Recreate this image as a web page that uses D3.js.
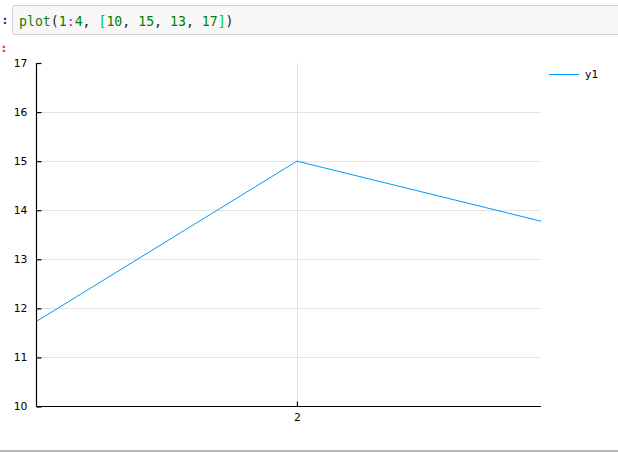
<!DOCTYPE html>
<html>
<head>
<meta charset="utf-8">
<script src="https://cdn.jsdelivr.net/npm/d3@7"></script>
<style>
  html, body { margin: 0; padding: 0; background: #fff; overflow: hidden; }
  svg { display: block; }
</style>
</head>
<body>
<svg id="chart" width="618" height="452"></svg>
<script>
// data from the plot call
var xs = [1, 2, 3, 4];
var ys = [10, 15, 13, 17];
var xTicks = [2];
var yTicks = [10, 11, 12, 13, 14, 15, 16, 17];
var seriesName = "y1";

function main(){
  var svg = d3.select("#chart");

  // jupyter cell look
  svg.append("text").attr("x", 1).attr("y", 24).attr("fill", "#303f9f")
    .style("font", "bold 13px 'DejaVu Sans Mono'").text(":");
  svg.append("rect").attr("x", 12.5).attr("y", 5.5).attr("width", 620).attr("height", 29)
    .attr("fill", "#f7f7f7").attr("stroke", "#cfcfcf").attr("rx", 2);

  var code = [
    ["plot", "#1d7a12"], ["(", "#1a1a1a"], ["1", "#008000"], [":", "#aa22ff"], ["4", "#008000"],
    [", ", "#1a1a1a"], ["[", "#00d000"], ["10", "#008000"], [", ", "#1a1a1a"], ["15", "#008000"],
    [", ", "#1a1a1a"], ["13", "#008000"], [", ", "#1a1a1a"], ["17", "#008000"], ["]", "#00d000"], [")", "#1a1a1a"]
  ];
  var codeText = svg.append("text").attr("x", 19).attr("y", 25.5)
    .style("font-family", "'DejaVu Sans Mono', monospace").style("font-size", "13.2px")
    .style("white-space", "pre");
  code.forEach(function(c){
    codeText.append("tspan").attr("fill", c[1]).text(c[0]);
  });

  svg.append("text").attr("x", 0).attr("y", 52).attr("fill", "#d84315")
    .style("font", "bold 13px 'DejaVu Sans Mono'").text(":");

  svg.append("rect").attr("x", 0).attr("y", 450).attr("width", 618).attr("height", 2).attr("fill", "#b8b8b8");

  // plot area
  var pLeft = 36.5, pRight = 541, pTop = 63, pBottom = 406.5;
  var x = d3.scaleLinear().domain([1.347, 2.612]).range([pLeft, pRight]);
  var y = d3.scaleLinear().domain([10, 17]).range([pBottom, pTop]);

  svg.append("clipPath").attr("id", "clip").append("rect")
    .attr("x", pLeft).attr("y", pTop).attr("width", pRight - pLeft).attr("height", pBottom - pTop);

  var grid = svg.append("g").attr("stroke", "#e3e3e3").attr("stroke-width", 1);
  grid.selectAll(".hg").data(yTicks.filter(function(d){ return d > 10 && d < 17; }))
    .enter().append("line")
    .attr("x1", pLeft).attr("x2", pRight)
    .attr("y1", function(d){ return Math.round(y(d)) + 0.5; })
    .attr("y2", function(d){ return Math.round(y(d)) + 0.5; });
  grid.selectAll(".vg").data(xTicks).enter().append("line")
    .attr("x1", function(d){ return Math.round(x(d)) + 0.5; })
    .attr("x2", function(d){ return Math.round(x(d)) + 0.5; })
    .attr("y1", pTop).attr("y2", pBottom);

  var line = d3.line().x(function(d, i){ return x(xs[i]); }).y(function(d){ return y(d); });
  svg.append("path").datum(ys).attr("clip-path", "url(#clip)")
    .attr("d", line).attr("fill", "none").attr("stroke", "#009afa").attr("stroke-width", 1);

  // axes
  var yAxis = d3.axisLeft(y).tickValues(yTicks).tickSize(-5).tickPadding(9).tickFormat(d3.format("d"));
  var gy = svg.append("g").attr("transform", "translate(" + pLeft + ",0)").call(yAxis);
  var xAxis = d3.axisBottom(x).tickValues(xTicks).tickSize(-5).tickPadding(7).tickFormat(d3.format("d"));
  var gx = svg.append("g").attr("transform", "translate(0," + pBottom + ")").call(xAxis);
  [gx, gy].forEach(function(g){
    g.select(".domain").attr("stroke", "#000").attr("stroke-width", 1.2);
    g.selectAll(".tick line").attr("stroke", "#000").attr("stroke-width", 1.2);
    g.selectAll(".tick text").attr("fill", "#000")
      .style("font-family", "'DejaVu Sans', sans-serif").style("font-size", "10.8px");
  });
  gx.select(".domain").attr("d", "M" + pLeft + ",0H" + pRight);
  gy.select(".domain").attr("d", "M0," + pBottom + "V" + pTop);

  // legend
  var lg = svg.append("g");
  lg.append("line").attr("x1", 549).attr("x2", 579).attr("y1", 74.5).attr("y2", 74.5)
    .attr("stroke", "#009afa").attr("stroke-width", 1);
  lg.append("text").attr("x", 585).attr("y", 78).text(seriesName)
    .style("font-family", "'DejaVu Sans', sans-serif").style("font-size", "10.8px").attr("fill", "#000");
}
main();
</script>
</body>
</html>
